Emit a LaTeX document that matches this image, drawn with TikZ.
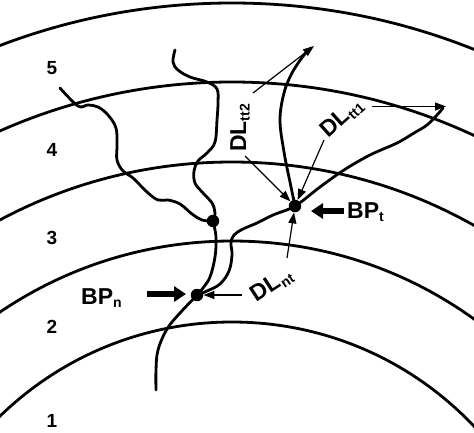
\documentclass[tikz,border=0pt]{standalone}
\usepackage{fontspec}
\setmainfont{Liberation Sans}
\usetikzlibrary{arrows.meta}
\newcommand{\lsub}[1]{\raisebox{-3.5pt}{\fontsize{14pt}{14pt}\selectfont #1}}
\begin{document}
\begin{tikzpicture}[x=1pt,y=-1pt,
  arcline/.style={line width=2.8pt},
  rootline/.style={line width=2.8pt, line cap=round, line join=round},
  thinarr/.style={line width=1.2pt, -{Triangle[length=11pt,width=8pt]}},
  fatarr/.style={line width=6.5pt, -{Triangle[length=12pt,width=15pt]}},
  dot/.style={circle, fill=black, inner sep=0pt, minimum size=12.5pt},
  lbl/.style={font=\fontsize{23pt}{23pt}\selectfont\bfseries, inner sep=0pt},
  num/.style={font=\fontsize{19pt}{19pt}\selectfont\bfseries, inner sep=0pt}]
\useasboundingbox (0,0) rectangle (474,432);
\begin{scope}
\clip (0,0) rectangle (474,432);
\coordinate (c) at (232,655);
\foreach \r in {652,573,493,414,333} \draw[arcline] (c) circle[radius=\r pt];
\end{scope}
% layer numbers
\node[num] (n5) at (52,68) {5};
\node[num] (n4) at (52,150) {4};
\node[num] (n3) at (52,238) {3};
\node[num] (n2) at (52,327) {2};
\node[num] (n1) at (52,421) {1};
% branch points
\coordinate (bj) at (213,221);
\coordinate (bpn) at (197,295);
\coordinate (bpt) at (295,206);
% roots
\draw[rootline] plot[smooth, tension=0.6] coordinates {(60,88) (78,106) (88,105) (98,107) (108,115) (116,128) (117,145) (117,160) (123,171) (133,178) (147,192) (158,200) (168,200) (180,204) (192,214) (202,220) (bj)};
\draw[rootline] plot[smooth, tension=0.6] coordinates {(175,50) (173,62) (178,70) (190,77) (207,82) (217,89) (218,103) (217,120) (215,142) (207,153) (198,161) (194,171) (195,183) (203,193) (212,203) (215,213) (bj)};
\draw[rootline] plot[smooth, tension=0.6] coordinates {(bj) (216,237) (215,257) (210,277) (203,288) (bpn) (180,313) (167,329) (158,350) (156,370) (156,390)};
\draw[rootline] plot[smooth, tension=0.6] coordinates {(bpn) (207,291) (220,284) (229,271) (232,255) (231,243) (234,235) (243,229) (257,223) (273,215) (bpt) (320,187) (344,170) (370,155) (397,143) (414,133) (427,125) (437,115) (443,108)};
\draw[rootline] plot[smooth, tension=0.6] coordinates {(bpt) (290,182) (284,152) (280,120) (284,93) (292,73) (304,55) (311,48)};
% dots
\node[dot] (dbj) at (bj) {};
\node[dot] (dbpn) at (bpn) {};
\node[dot] (dbpt) at (bpt) {};
% labels
\node[lbl, anchor=base west] (bpnl) at (81,304) {BP\lsub{n}};
\node[lbl, anchor=base west] (bptl) at (347,218) {BP\lsub{t}};
\node[lbl, rotate=90] (dl2) at (240,128) {DL\lsub{tt2}};
\node[lbl, rotate=42] (dl1) at (342,118) {DL\lsub{tt1}};
\node[lbl, rotate=33] (dln) at (272,285) {DL\lsub{nt}};
% arrow ends
\coordinate (a2s) at (253,93);
\coordinate (a2e) at (314,46);
\coordinate (b2s) at (245,156);
\coordinate (b1s) at (324,140);
\coordinate (r1s) at (372,106.5);
\coordinate (r1e) at (446,106.5);
\coordinate (nts) at (287,258);
\coordinate (nls) at (242,295);
\coordinate (fns) at (147,294);
\coordinate (fne) at (186,294);
\coordinate (fts) at (344,211);
\coordinate (fte) at (311,211);
% thin arrows
\draw[thinarr] (a2s) -- (a2e);
\draw[thinarr] (b2s) -- (dbpt);
\draw[thinarr] (b1s) -- (dbpt);
\draw[thinarr] (r1s) -- (r1e);
\draw[thinarr] (nts) -- (dbpt);
\draw[thinarr] (nls) -- (dbpn);
% fat arrows
\draw[fatarr] (fns) -- (fne);
\draw[fatarr] (fts) -- (fte);
\end{tikzpicture}
\end{document}
